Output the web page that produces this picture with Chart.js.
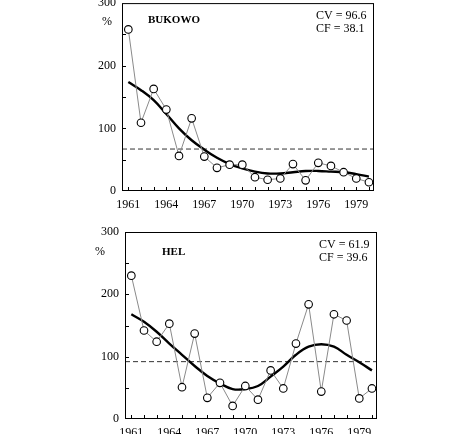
<!DOCTYPE html>
<html>
<head>
<meta charset="utf-8">
<script src="https://cdn.jsdelivr.net/npm/chart.js@4.4.1/dist/chart.umd.min.js"></script>
<style>
  html, body { margin: 0; padding: 0; background: #fff; }
  body { width: 474px; height: 434px; position: relative; overflow: hidden; }
  .box { position: absolute; left: 0; width: 474px; height: 217px; }
</style>
</head>
<body>
<div class="box" style="top:-2px"><canvas id="bukowoChart"></canvas></div>
<div class="box" style="top:217px"><canvas id="helChart"></canvas></div>
<script>
const years = [1961, 1962, 1963, 1964, 1965, 1966, 1967, 1968, 1969, 1970,
               1971, 1972, 1973, 1974, 1975, 1976, 1977, 1978, 1979, 1980];
const yearLabels = [1961, 1964, 1967, 1970, 1973, 1976, 1979];
const yLabels = [0, 100, 200, 300];
const yMinorTicks = [50, 100, 150, 200, 250];

// BUKOWO
const bukowoObs = [258, 109, 163, 130, 56, 116, 55, 37, 42, 42,
                   22, 18, 20, 43, 17, 45, 40, 30, 20, 14];
const bukowoTrend = [174, 161, 145, 123, 100, 81, 66, 53, 43, 36,
                     31, 28, 28, 30, 32, 32, 31, 30, 27, 23];
const bukowoMean = 67;

// HEL
const helObs = [230, 142, 124, 153, 51, 137, 34, 58, 21, 53,
                31, 78, 49, 121, 184, 44, 168, 158, 33, 49];
const helTrend = [168, 156, 140, 121, 103, 85, 69, 57, 48, 48,
                  53, 68, 84, 103, 116, 120, 116, 103, 91, 78];
const helMean = 92;

const serif = "'Liberation Serif', 'DejaVu Serif', serif";

// frame, inward ticks, labels and notes
const framePlugin = {
  id: "frame",
  afterDraw(chart, args, opts) {
    const { ctx, chartArea: a, scales: { x, y } } = chart;
    ctx.save();
    ctx.strokeStyle = "#000";
    ctx.lineWidth = 1;
    ctx.strokeRect(a.left + 0.5, a.top + 0.5, a.width - 1, a.height - 1);

    ctx.beginPath();
    years.forEach((yr) => {
      const px = Math.round(x.getPixelForValue(yr)) + 0.5;
      ctx.moveTo(px, a.bottom);
      ctx.lineTo(px, a.bottom - 4);
    });
    yMinorTicks.forEach((v) => {
      const py = Math.round(y.getPixelForValue(v)) + 0.5;
      ctx.moveTo(a.left, py);
      ctx.lineTo(a.left + 4, py);
    });
    ctx.stroke();

    ctx.fillStyle = "#000";
    ctx.font = "12px " + serif;
    ctx.textAlign = "center";
    ctx.textBaseline = "middle";
    yearLabels.forEach((yr) => {
      ctx.fillText(String(yr), x.getPixelForValue(yr), a.bottom + 14);
    });
    ctx.textAlign = "right";
    yLabels.forEach((v) => {
      ctx.fillText(String(v), a.left - 6, y.getPixelForValue(v));
    });
    ctx.textAlign = "center";
    ctx.fillText("%", a.left + opts.pctX, a.top + opts.pctY);

    ctx.textAlign = "left";
    ctx.font = "bold 11px " + serif;
    ctx.fillText(opts.name, a.left + opts.nameX, a.top + opts.nameY);
    ctx.font = "12px " + serif;
    ctx.fillText(opts.cv, a.left + 194, a.top + 13);
    ctx.fillText(opts.cf, a.left + 194, a.top + 26);
    ctx.restore();
  },
};

function makeChart(id, obs, trend, mean, pad, notes) {
  new Chart(document.getElementById(id), {
    type: "line",
    data: {
      datasets: [
        {
          data: years.map((yr, i) => ({ x: yr, y: obs[i] })),
          borderColor: "#8a8a8a",
          borderWidth: 1,
          pointRadius: 3.8,
          pointBorderWidth: 1.1,
          pointBorderColor: "#000",
          pointBackgroundColor: "#fff",
          tension: 0,
        },
        {
          data: years.map((yr, i) => ({ x: yr, y: trend[i] })),
          borderColor: "#000",
          borderWidth: 2.4,
          pointRadius: 0,
          tension: 0.4,
        },
        {
          data: [{ x: 1960.5, y: mean }, { x: 1980.4, y: mean }],
          borderColor: "#333",
          borderWidth: 1,
          borderDash: [5, 3],
          pointRadius: 0,
        },
      ],
    },
    options: {
      responsive: true,
      maintainAspectRatio: false,
      animation: false,
      layout: { padding: pad },
      plugins: {
        legend: { display: false },
        tooltip: { enabled: false },
        frame: notes,
      },
      scales: {
        x: { type: "linear", min: 1960.5, max: 1980.4, display: false },
        y: { type: "linear", min: 0, max: 300, display: false },
      },
    },
    plugins: [framePlugin],
  });
}

makeChart("bukowoChart", bukowoObs, bukowoTrend, bukowoMean,
  { left: 122, right: 100, top: 5, bottom: 24 },
  { name: "BUKOWO", nameX: 26, nameY: 17, pctX: -15, pctY: 19, cv: "CV = 96.6", cf: "CF = 38.1" });

makeChart("helChart", helObs, helTrend, helMean,
  { left: 125, right: 97, top: 15, bottom: 15 },
  { name: "HEL", nameX: 37, nameY: 20, pctX: -25, pctY: 20, cv: "CV = 61.9", cf: "CF = 39.6" });
</script>
</body>
</html>
